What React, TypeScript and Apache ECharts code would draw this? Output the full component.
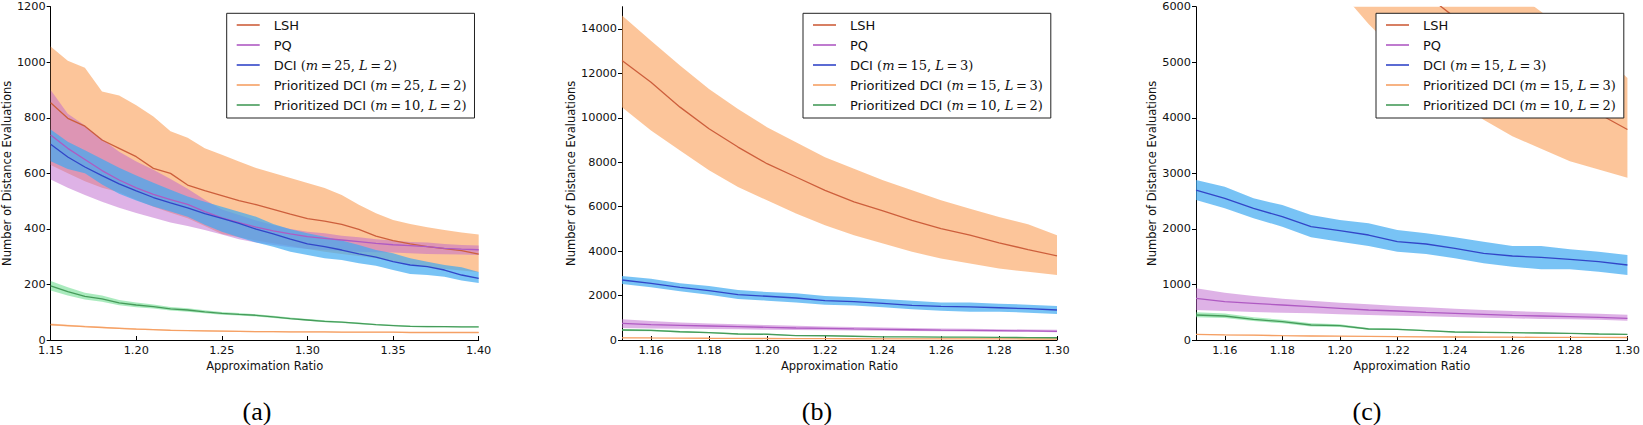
import React, { useEffect, useRef } from "react";
import * as echarts from "echarts";

// ---------- data ----------
const xA = [1.15, 1.16, 1.17, 1.18, 1.19, 1.2, 1.21, 1.22, 1.23, 1.24, 1.25, 1.26, 1.27, 1.28, 1.29, 1.3, 1.31, 1.32, 1.33, 1.34, 1.35, 1.36, 1.37, 1.38, 1.39, 1.4];
const xB = [1.15, 1.16, 1.17, 1.18, 1.19, 1.2, 1.21, 1.22, 1.23, 1.24, 1.25, 1.26, 1.27, 1.28, 1.29, 1.3];

const xTicksA = ["1.15", "1.20", "1.25", "1.30", "1.35", "1.40"];
const xTicksB = ["1.16", "1.18", "1.20", "1.22", "1.24", "1.26", "1.28", "1.30"];

const namesA = ["LSH", "PQ", "DCI (m=25, L=2)", "Prioritized DCI (m=25, L=2)", "Prioritized DCI (m=10, L=2)"];
const namesB = ["LSH", "PQ", "DCI (m=15, L=3)", "Prioritized DCI (m=15, L=3)", "Prioritized DCI (m=10, L=2)"];

// panel (a)
const lshA = [854, 798, 770, 720, 690, 660, 618, 600, 558, 538, 520, 502, 487, 470, 453, 437, 428, 416, 398, 374, 358, 346, 336, 329, 322, 309];
const lshALo = [630, 600, 572, 548, 532, 505, 480, 458, 438, 410, 382, 370, 358, 348, 338, 328, 318, 310, 302, 294, 284, 274, 264, 256, 250, 244];
const lshAHi = [1057, 1005, 980, 895, 880, 845, 805, 752, 728, 690, 667, 643, 619, 601, 583, 565, 547, 522, 487, 456, 432, 418, 406, 396, 387, 380];
const pqA = [738, 690, 650, 610, 576, 548, 524, 505, 488, 462, 440, 423, 406, 393, 382, 372, 366, 360, 354, 348, 343, 340, 336, 330, 327, 325];
const pqALo = [578, 548, 522, 498, 476, 457, 440, 423, 410, 396, 380, 363, 351, 342, 334, 328, 324, 321, 318, 316, 315, 312, 310, 309, 308, 306];
const pqAHi = [900, 815, 772, 724, 678, 643, 613, 580, 545, 505, 470, 450, 430, 414, 400, 390, 384, 375, 370, 363, 358, 353, 351, 346, 342, 340];
const dciA = [705, 659, 623, 592, 562, 537, 513, 494, 476, 455, 438, 420, 399, 382, 363, 346, 336, 324, 310, 298, 282, 270, 264, 252, 234, 222];
const dciALo = [644, 616, 600, 560, 527, 502, 481, 463, 444, 415, 390, 370, 351, 336, 318, 306, 294, 288, 276, 267, 252, 238, 234, 228, 214, 205];
const dciAHi = [758, 714, 683, 652, 620, 592, 566, 541, 517, 498, 480, 462, 444, 418, 399, 384, 372, 358, 342, 324, 312, 294, 282, 270, 262, 245];
const pdciA = [55, 52, 48, 45, 42, 39, 37, 35, 34, 33, 32, 31, 30, 30, 29, 29, 29, 28, 28, 28, 28, 27, 27, 27, 27, 27];
const pdciALo = [52, 49, 46, 43, 40, 37, 35, 33, 32, 31, 30, 29, 28, 28, 27, 27, 27, 26, 26, 26, 26, 25, 25, 25, 25, 25];
const pdciAHi = [59, 55, 51, 48, 45, 42, 40, 38, 36, 35, 34, 33, 32, 32, 31, 31, 31, 30, 30, 30, 30, 29, 29, 29, 29, 29];
const grnA = [195, 174, 157, 148, 134, 126, 120, 112, 108, 101, 96, 92, 89, 83, 77, 72, 67, 64, 60, 55, 52, 49, 48, 48, 47, 47];
const grnALo = [178, 160, 146, 138, 125, 118, 113, 106, 102, 96, 91, 88, 85, 79, 74, 69, 64, 61, 57, 53, 50, 47, 46, 46, 45, 45];
const grnAHi = [212, 190, 170, 160, 144, 135, 128, 119, 114, 107, 101, 97, 93, 87, 81, 76, 71, 67, 63, 58, 55, 52, 51, 50, 49, 49];

// panels (b) and (c) share the same measurements
const lshB = [12575, 11600, 10480, 9506, 8683, 7934, 7335, 6737, 6213, 5808, 5389, 5015, 4716, 4371, 4072, 3790];
const lshBLo = [10480, 9430, 8530, 7635, 6886, 6287, 5689, 5165, 4716, 4341, 3967, 3668, 3443, 3218, 3069, 2920];
const lshBHi = [14600, 13470, 12350, 11300, 10400, 9580, 8900, 8230, 7710, 7185, 6740, 6290, 5910, 5540, 5210, 4716];
const pqB = [750, 690, 660, 630, 600, 570, 540, 522, 498, 480, 462, 444, 432, 420, 408, 390];
const pqBLo = [540, 522, 504, 492, 480, 462, 450, 438, 426, 414, 402, 390, 378, 372, 366, 348];
const pqBHi = [930, 852, 792, 744, 708, 672, 642, 612, 588, 564, 540, 522, 504, 486, 474, 456];
const dciB = [2700, 2550, 2370, 2220, 2040, 1968, 1890, 1770, 1728, 1650, 1560, 1512, 1488, 1452, 1410, 1350];
const dciBLo = [2520, 2370, 2190, 2040, 1848, 1770, 1692, 1590, 1548, 1470, 1380, 1320, 1272, 1272, 1230, 1170];
const dciBHi = [2880, 2760, 2550, 2430, 2250, 2160, 2100, 1980, 1920, 1848, 1770, 1692, 1692, 1632, 1590, 1530];
const pdciB = [100, 92, 86, 78, 72, 68, 64, 60, 56, 54, 52, 50, 48, 47, 46, 45];
const pdciBLo = [90, 84, 78, 71, 66, 62, 58, 55, 51, 49, 47, 45, 44, 43, 42, 41];
const pdciBHi = [110, 100, 94, 85, 78, 74, 70, 65, 61, 59, 57, 55, 52, 51, 50, 49];
const grnB = [450, 432, 372, 330, 270, 258, 198, 192, 168, 144, 138, 132, 126, 120, 108, 102];
const grnBLo = [410, 395, 340, 300, 245, 235, 185, 180, 157, 134, 128, 122, 117, 112, 100, 95];
const grnBHi = [500, 475, 410, 365, 300, 285, 215, 205, 180, 155, 148, 142, 135, 128, 116, 110];

// ---------- styling ----------
const LINE_COLORS = ["#cd5f3c", "#af5ac3", "#3246c8", "#f5a064", "#469b5a"];
const BAND_COLORS = ["rgb(250,158,87)", "rgb(189,101,205)", "rgb(62,169,241)", "rgb(250,158,87)", "rgb(85,215,125)"];
const BAND_OPACITY = [0.6, 0.5, 0.7, 0.5, 0.5];
const SANS = "DejaVu Sans";
const SERIF = "DejaVu Serif";

const panels = [
  {
    xs: xA, ticks: xTicksA, names: namesA, ymax: 1200, yint: 200, hideMax: false,
    grid: { left: 47.7, top: 6.7, width: 431, height: 333.3 }, nameGap: 36, legendLeft: 226.7, tag: "(a)", tagX: 257,
    data: [[lshA, lshALo, lshAHi], [pqA, pqALo, pqAHi], [dciA, dciALo, dciAHi], [pdciA, pdciALo, pdciAHi], [grnA, grnALo, grnAHi]],
  },
  {
    xs: xB, ticks: xTicksB, names: namesB, ymax: 15000, yint: 2000, hideMax: true,
    grid: { left: 622, top: 6.7, width: 435, height: 333.3 }, nameGap: 43, legendLeft: 803, tag: "(b)", tagX: 817,
    data: [[lshB, lshBLo, lshBHi], [pqB, pqBLo, pqBHi], [dciB, dciBLo, dciBHi], [pdciB, pdciBLo, pdciBHi], [grnB, grnBLo, grnBHi]],
  },
  {
    xs: xB, ticks: xTicksB, names: namesB, ymax: 6000, yint: 1000, hideMax: false,
    grid: { left: 1196, top: 6.7, width: 432, height: 333.3 }, nameGap: 36, legendLeft: 1376, tag: "(c)", tagX: 1367,
    data: [[lshB, lshBLo, lshBHi], [pqB, pqBLo, pqBHi], [dciB, dciBLo, dciBHi], [pdciB, pdciBLo, pdciBHi], [grnB, grnBLo, grnBHi]],
  },
];

function legendLabel(name: string): string {
  const i = name.indexOf(" (");
  if (i < 0) return `{s|${name}}`;
  const prefix = name.slice(0, i);
  const inner = name.slice(i + 2, name.length - 1);
  const parts = inner.split(", ").map((p) => p.split("="));
  const t = "\u2009";
  return (
    `{s|${prefix} }{mr|(}` +
    parts
      .map((p, k) => `{mi|${p[0]}}{mr|${t}=${t}${p[1]}${k < parts.length - 1 ? ", " : ""}}`)
      .join("") +
    `{mr|)}`
  );
}

function buildOption() {
  const grid: any[] = [];
  const xAxis: any[] = [];
  const yAxis: any[] = [];
  const series: any[] = [];
  const legend: any[] = [];
  const graphic: any[] = [];
  const nameStyle = { fontFamily: SANS, fontSize: 11.5, color: "#111" };

  panels.forEach((p, pi) => {
    grid.push({ ...p.grid, containLabel: false });
    const cats = p.xs.map((x) => x.toFixed(2));
    const show = (_i: number, v: string) => p.ticks.indexOf(v) >= 0;
    xAxis.push({
      type: "category", gridIndex: pi, data: cats, boundaryGap: false,
      axisLine: { show: true, lineStyle: { color: "#000", width: 1 } },
      axisTick: { show: true, inside: true, length: 4, interval: show, lineStyle: { color: "#000" } },
      axisLabel: { interval: show, margin: 5, lineHeight: 10, fontFamily: SANS, fontSize: 11.3, color: "#111", formatter: (v: string) => v },
      splitLine: { show: false },
      name: "Approximation Ratio", nameLocation: "middle", nameGap: 18, nameTextStyle: nameStyle,
    });
    yAxis.push({
      type: "value", gridIndex: pi, min: 0, max: p.ymax, interval: p.yint,
      axisLine: { show: true, lineStyle: { color: "#000", width: 1 } },
      axisTick: { show: true, inside: false, length: 4, lineStyle: { color: "#000" } },
      axisLabel: {
        margin: 5, lineHeight: 10, fontFamily: SANS, fontSize: 11.3, color: "#111",
        showMaxLabel: !p.hideMax, showMinLabel: true, formatter: (v: number) => String(Math.round(v)),
      },
      splitLine: { show: false },
      name: "Number of Distance Evaluations", nameLocation: "middle", nameGap: p.nameGap, nameTextStyle: nameStyle,
    });

    // bands
    p.data.forEach((d, k) => {
      const [, lo, hi] = d;
      const stack = `band${pi}_${k}`;
      series.push({
        type: "line", name: `_${stack}_lo`, xAxisIndex: pi, yAxisIndex: pi, data: lo, stack,
        symbol: "none", showSymbol: false, lineStyle: { width: 0, opacity: 0 }, silent: true, z: 1,
      });
      series.push({
        type: "line", name: `_${stack}_hi`, xAxisIndex: pi, yAxisIndex: pi, data: hi.map((h, i) => h - lo[i]), stack,
        symbol: "none", showSymbol: false, lineStyle: { width: 0, opacity: 0 },
        areaStyle: { color: BAND_COLORS[k], opacity: BAND_OPACITY[k] }, silent: true, z: 1,
      });
    });
    // mean lines
    p.data.forEach((d, k) => {
      series.push({
        type: "line", name: p.names[k], xAxisIndex: pi, yAxisIndex: pi, data: d[0],
        symbol: "none", showSymbol: false, color: LINE_COLORS[k],
        itemStyle: { color: LINE_COLORS[k] }, lineStyle: { color: LINE_COLORS[k], width: 1.3 }, z: 2,
      });
    });

    legend.push({
      left: p.legendLeft, top: 13.3, orient: "vertical", data: p.names, icon: "rect",
      itemWidth: 23, itemHeight: 1.6, itemGap: 6, padding: [4.7, 8, 6, 10],
      borderColor: "#222", borderWidth: 1, borderRadius: 0, backgroundColor: "#fff", selectedMode: false, z: 10,
      formatter: legendLabel,
      textStyle: {
        fontFamily: SANS, fontSize: 13, color: "#111", lineHeight: 14, padding: [0, 0, 0, 9],
        rich: {
          s: { fontFamily: SANS, fontSize: 13, color: "#111", lineHeight: 14 },
          mi: { fontFamily: SERIF, fontStyle: "italic", fontSize: 13, color: "#111", lineHeight: 14 },
          mr: { fontFamily: SERIF, fontSize: 13, color: "#111", lineHeight: 14 },
        },
      },
    });

    graphic.push({
      type: "text", x: p.tagX, y: 411,
      style: { text: p.tag, font: '26px "Liberation Serif"', fill: "#000", textAlign: "center", textVerticalAlign: "middle" },
    });
  });

  return { animation: false, backgroundColor: "#fff", grid, xAxis, yAxis, series, legend, graphic };
}

export default function App() {
  const ref = useRef<HTMLDivElement>(null);
  useEffect(() => {
    document.body.style.margin = "0";
    const chart = echarts.init(ref.current!, undefined, { renderer: "svg" });
    chart.setOption(buildOption());
    return () => chart.dispose();
  }, []);
  return <div ref={ref} style={{ width: 1643, height: 425 }} />;
}
